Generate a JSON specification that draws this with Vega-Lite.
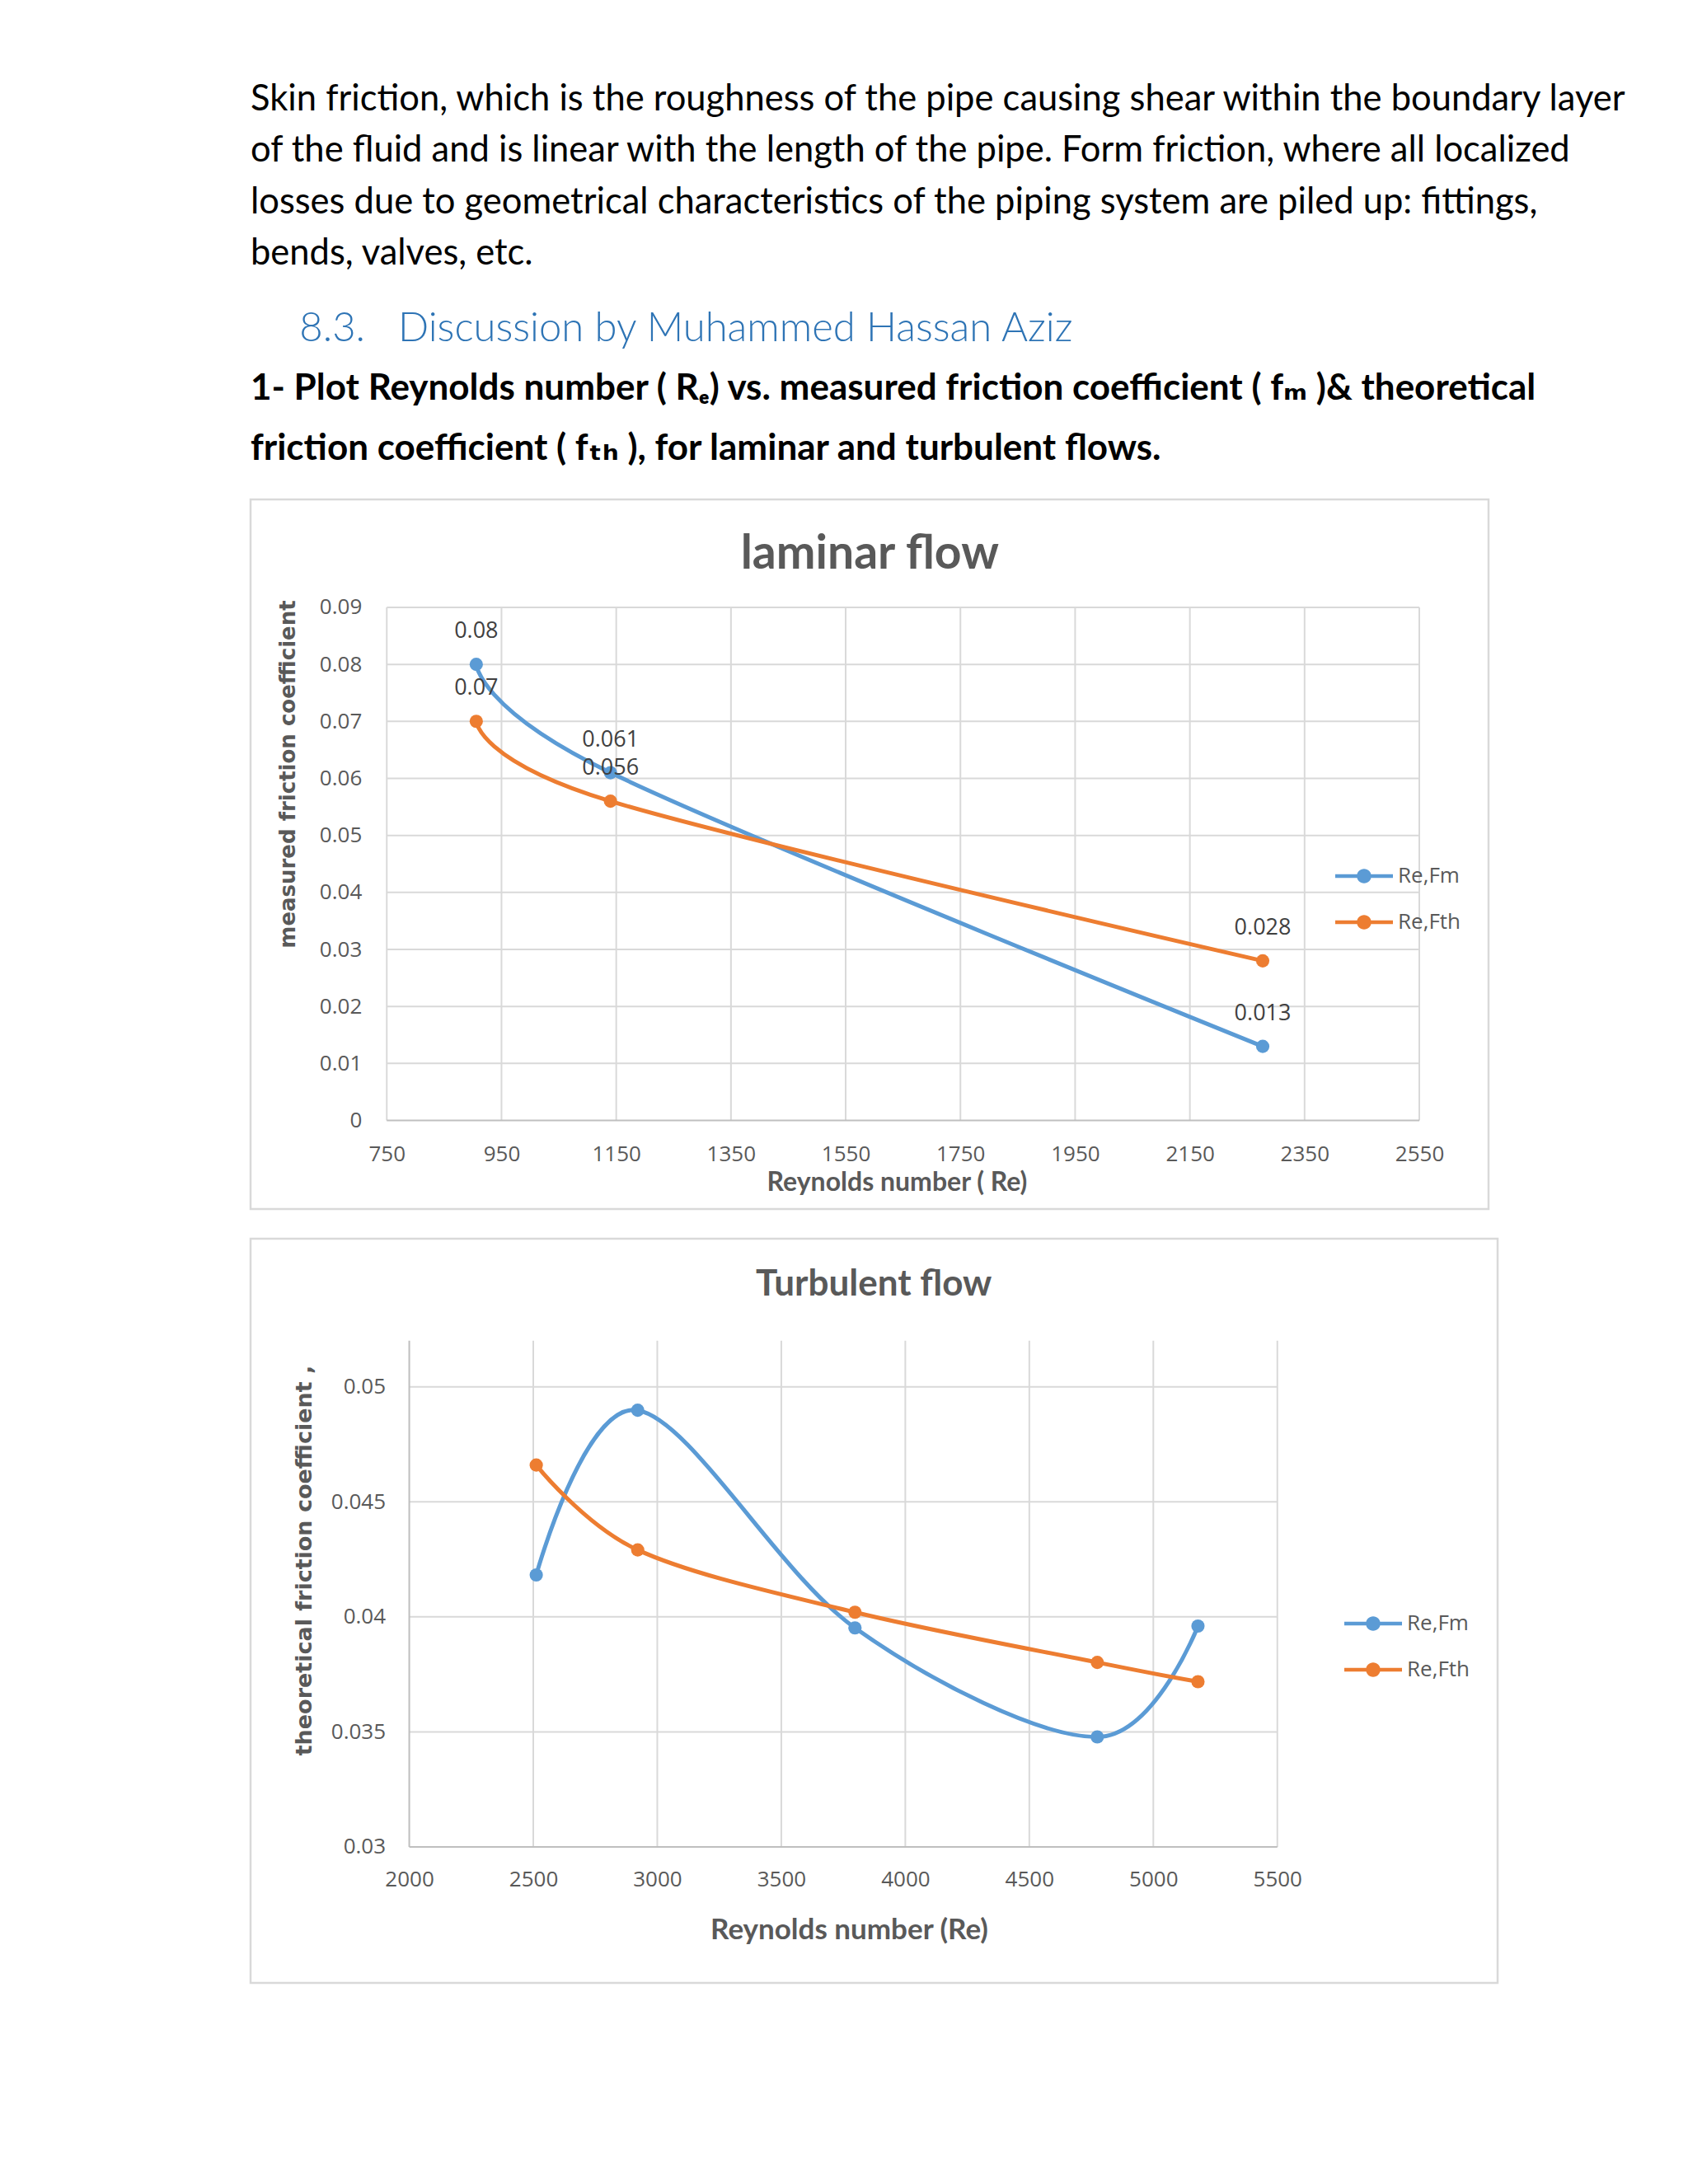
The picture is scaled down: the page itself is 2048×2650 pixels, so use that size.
{
  "$schema": "https://vega.github.io/schema/vega-lite/v6.json",
  "background": "white",
  "padding": {"left": 302, "top": 98, "right": 20, "bottom": 20},
  "title": {
    "text": [
      "Skin friction, which is the roughness of the pipe causing shear within the boundary layer",
      "of the fluid and is linear with the length of the pipe. Form friction, where all localized",
      "losses due to geometrical characteristics of the piping system are piled up: fittings,",
      "bends, valves, etc."
    ],
    "subtitle": "\u200b\u00a0\u00a0\u00a0\u00a0\u20098.3.\u00a0\u00a0\u00a0Discussion by Muhammed Hassan Aziz",
    "anchor": "start",
    "frame": "group",
    "font": "Lato",
    "fontSize": 43.5,
    "fontWeight": "normal",
    "color": "#000000",
    "lineHeight": 62.5,
    "subtitleFont": "Lato",
    "subtitleFontSize": 49,
    "subtitleFontWeight": 300,
    "subtitleColor": "#2e74b5",
    "subtitleLineHeight": 60,
    "subtitlePadding": 44,
    "offset": 25
  },
  "datasets": {
    "laminar": [
      {"Re": 906, "f": 0.08, "series": "Re,Fm"},
      {"Re": 1140, "f": 0.061, "series": "Re,Fm"},
      {"Re": 2277, "f": 0.013, "series": "Re,Fm"},
      {"Re": 906, "f": 0.07, "series": "Re,Fth"},
      {"Re": 1140, "f": 0.056, "series": "Re,Fth"},
      {"Re": 2277, "f": 0.028, "series": "Re,Fth"}
    ],
    "turbulent": [
      {"Re": 2512, "f": 0.04182, "series": "Re,Fm"},
      {"Re": 2921, "f": 0.04898, "series": "Re,Fm"},
      {"Re": 3797, "f": 0.03952, "series": "Re,Fm"},
      {"Re": 4774, "f": 0.03478, "series": "Re,Fm"},
      {"Re": 5180, "f": 0.0396, "series": "Re,Fm"},
      {"Re": 2512, "f": 0.0466, "series": "Re,Fth"},
      {"Re": 2921, "f": 0.04291, "series": "Re,Fth"},
      {"Re": 3797, "f": 0.0402, "series": "Re,Fth"},
      {"Re": 4774, "f": 0.03802, "series": "Re,Fth"},
      {"Re": 5180, "f": 0.03718, "series": "Re,Fth"}
    ],
    "lamTitle": [{"label": "laminar flow"}],
    "turTitle": [{"label": "Turbulent flow"}],
    "lamGridX": [{"v": 750}, {"v": 950}, {"v": 1150}, {"v": 1350}, {"v": 1550}, {"v": 1750}, {"v": 1950}, {"v": 2150}, {"v": 2350}, {"v": 2550}],
    "lamGridY": [{"v": 0.01}, {"v": 0.02}, {"v": 0.03}, {"v": 0.04}, {"v": 0.05}, {"v": 0.06}, {"v": 0.07}, {"v": 0.08}, {"v": 0.09}],
    "lamAxis": [{"v": 0}],
    "turGridX": [{"v": 2500}, {"v": 3000}, {"v": 3500}, {"v": 4000}, {"v": 4500}, {"v": 5000}, {"v": 5500}],
    "turGridY": [{"v": 0.035}, {"v": 0.04}, {"v": 0.045}, {"v": 0.05}],
    "turAxisX": [{"v": 2000}],
    "turAxisY": [{"v": 0.03}]
  },
  "vconcat": [
    {
      "title": {
        "text": [
          "1- Plot Reynolds number ( R\u2091) vs. measured friction coefficient ( f\u2098 )& theoretical",
          "friction coefficient ( f\u209c\u2095 ), for laminar and turbulent flows."
        ],
        "anchor": "start",
        "frame": "group",
        "font": "Lato, DejaVu Sans",
        "fontSize": 44,
        "fontWeight": "bold",
        "color": "#000000",
        "lineHeight": 73,
        "offset": 38
      },
      "vconcat": [
        {
          "width": 1502,
          "height": 861,
          "layer": [
            {
              "data": {"name": "lamGridX"},
              "mark": {"type": "rule", "color": "#d9d9d9", "strokeWidth": 2},
              "encoding": {
                "x": {"field": "v", "type": "quantitative", "scale": {"domain": [512.54, 2670.67], "nice": false, "zero": false},
                  "axis": {"values": [750, 950, 1150, 1350, 1550, 1750, 1950, 2150, 2350, 2550], "format": "d", "offset": -107.5, "labelPadding": 28, "title": "Reynolds number ( Re)", "titleX": 784, "titleY": 75, "titleFontSize": 32}},
                "y": {"datum": 0, "type": "quantitative", "scale": {"domain": [-0.015535, 0.108931], "nice": false, "zero": false},
                  "axis": {"values": [0, 0.01, 0.02, 0.03, 0.04, 0.05, 0.06, 0.07, 0.08, 0.09], "format": "~g", "offset": -164.8, "labelPadding": 30, "title": "measured friction coefficient", "titleX": -119, "titleY": 333}},
                "y2": {"datum": 0.09}
              }
            },
            {
              "data": {"name": "lamGridY"},
              "mark": {"type": "rule", "color": "#d9d9d9", "strokeWidth": 2},
              "encoding": {
                "y": {"field": "v", "type": "quantitative", "scale": {"domain": [-0.015535, 0.108931], "nice": false, "zero": false},
                  "axis": {"values": [0, 0.01, 0.02, 0.03, 0.04, 0.05, 0.06, 0.07, 0.08, 0.09], "format": "~g", "offset": -164.8, "labelPadding": 30, "title": "measured friction coefficient", "titleX": -119, "titleY": 333}},
                "x": {"datum": 750, "type": "quantitative", "scale": {"domain": [512.54, 2670.67], "nice": false, "zero": false},
                  "axis": {"values": [750, 950, 1150, 1350, 1550, 1750, 1950, 2150, 2350, 2550], "format": "d", "offset": -107.5, "labelPadding": 28, "title": "Reynolds number ( Re)", "titleX": 784, "titleY": 75, "titleFontSize": 32}},
                "x2": {"datum": 2550}
              }
            },
            {
              "data": {"name": "lamAxis"},
              "mark": {"type": "rule", "color": "#bfbfbf", "strokeWidth": 2},
              "encoding": {
                "y": {"field": "v", "type": "quantitative", "scale": {"domain": [-0.015535, 0.108931], "nice": false, "zero": false},
                  "axis": {"values": [0, 0.01, 0.02, 0.03, 0.04, 0.05, 0.06, 0.07, 0.08, 0.09], "format": "~g", "offset": -164.8, "labelPadding": 30, "title": "measured friction coefficient", "titleX": -119, "titleY": 333}},
                "x": {"datum": 750, "type": "quantitative", "scale": {"domain": [512.54, 2670.67], "nice": false, "zero": false},
                  "axis": {"values": [750, 950, 1150, 1350, 1550, 1750, 1950, 2150, 2350, 2550], "format": "d", "offset": -107.5, "labelPadding": 28, "title": "Reynolds number ( Re)", "titleX": 784, "titleY": 75, "titleFontSize": 32}},
                "x2": {"datum": 2550}
              }
            },
            {
              "data": {"name": "lamTitle"},
              "mark": {"type": "text", "font": "Lato", "fontSize": 57, "fontWeight": "bold", "color": "#595959", "align": "center", "baseline": "middle"},
              "encoding": {
                "x": {"datum": 1592, "type": "quantitative", "scale": {"domain": [512.54, 2670.67], "nice": false, "zero": false},
                  "axis": {"values": [750, 950, 1150, 1350, 1550, 1750, 1950, 2150, 2350, 2550], "format": "d", "offset": -107.5, "labelPadding": 28, "title": "Reynolds number ( Re)", "titleX": 784, "titleY": 75, "titleFontSize": 32}},
                "y": {"datum": 0.0992, "type": "quantitative", "scale": {"domain": [-0.015535, 0.108931], "nice": false, "zero": false},
                  "axis": {"values": [0, 0.01, 0.02, 0.03, 0.04, 0.05, 0.06, 0.07, 0.08, 0.09], "format": "~g", "offset": -164.8, "labelPadding": 30, "title": "measured friction coefficient", "titleX": -119, "titleY": 333}},
                "text": {"field": "label"}
              }
            },
            {
              "data": {"name": "laminar"},
              "mark": {"type": "line", "interpolate": "cardinal", "strokeWidth": 5},
              "encoding": {
                "x": {"field": "Re", "type": "quantitative", "scale": {"domain": [512.54, 2670.67], "nice": false, "zero": false},
                  "axis": {"values": [750, 950, 1150, 1350, 1550, 1750, 1950, 2150, 2350, 2550], "format": "d", "offset": -107.5, "labelPadding": 28, "title": "Reynolds number ( Re)", "titleX": 784, "titleY": 75, "titleFontSize": 32}},
                "y": {"field": "f", "type": "quantitative", "scale": {"domain": [-0.015535, 0.108931], "nice": false, "zero": false},
                  "axis": {"values": [0, 0.01, 0.02, 0.03, 0.04, 0.05, 0.06, 0.07, 0.08, 0.09], "format": "~g", "offset": -164.8, "labelPadding": 30, "title": "measured friction coefficient", "titleX": -119, "titleY": 333}},
                "color": {"field": "series", "type": "nominal", "scale": {"domain": ["Re,Fm", "Re,Fth"], "range": ["#5b9bd5", "#ed7d31"]},
                  "legend": {"orient": "none", "legendX": 1316, "legendY": 422}}
              }
            },
            {
              "data": {"name": "laminar"},
              "mark": {"type": "point", "filled": true, "size": 260, "opacity": 1},
              "encoding": {
                "x": {"field": "Re", "type": "quantitative", "scale": {"domain": [512.54, 2670.67], "nice": false, "zero": false},
                  "axis": {"values": [750, 950, 1150, 1350, 1550, 1750, 1950, 2150, 2350, 2550], "format": "d", "offset": -107.5, "labelPadding": 28, "title": "Reynolds number ( Re)", "titleX": 784, "titleY": 75, "titleFontSize": 32}},
                "y": {"field": "f", "type": "quantitative", "scale": {"domain": [-0.015535, 0.108931], "nice": false, "zero": false},
                  "axis": {"values": [0, 0.01, 0.02, 0.03, 0.04, 0.05, 0.06, 0.07, 0.08, 0.09], "format": "~g", "offset": -164.8, "labelPadding": 30, "title": "measured friction coefficient", "titleX": -119, "titleY": 333}},
                "color": {"field": "series", "type": "nominal", "scale": {"domain": ["Re,Fm", "Re,Fth"], "range": ["#5b9bd5", "#ed7d31"]},
                  "legend": {"orient": "none", "legendX": 1316, "legendY": 422}}
              }
            },
            {
              "data": {"name": "laminar"},
              "mark": {"type": "text", "dy": -40, "font": "Open Sans", "fontSize": 27, "color": "#404040"},
              "encoding": {
                "x": {"field": "Re", "type": "quantitative", "scale": {"domain": [512.54, 2670.67], "nice": false, "zero": false},
                  "axis": {"values": [750, 950, 1150, 1350, 1550, 1750, 1950, 2150, 2350, 2550], "format": "d", "offset": -107.5, "labelPadding": 28, "title": "Reynolds number ( Re)", "titleX": 784, "titleY": 75, "titleFontSize": 32}},
                "y": {"field": "f", "type": "quantitative", "scale": {"domain": [-0.015535, 0.108931], "nice": false, "zero": false},
                  "axis": {"values": [0, 0.01, 0.02, 0.03, 0.04, 0.05, 0.06, 0.07, 0.08, 0.09], "format": "~g", "offset": -164.8, "labelPadding": 30, "title": "measured friction coefficient", "titleX": -119, "titleY": 333}},
                "text": {"field": "f", "type": "quantitative", "format": "~g"}
              }
            }
          ]
        }
      ]
    },
    {
      "width": 1513,
      "height": 903,
      "layer": [
        {
          "data": {"name": "turGridX"},
          "mark": {"type": "rule", "color": "#d9d9d9", "strokeWidth": 2},
          "encoding": {
            "x": {"field": "v", "type": "quantitative", "scale": {"domain": [1360.1, 6388.1], "nice": false, "zero": false},
              "axis": {"values": [2000, 2500, 3000, 3500, 4000, 4500, 5000, 5500], "format": "d", "offset": -165, "labelPadding": 26, "title": "Reynolds number (Re)", "titleX": 726, "titleY": 100, "titleFontSize": 35}},
            "y": {"datum": 0.03, "type": "quantitative", "scale": {"domain": [0.024089, 0.056437], "nice": false, "zero": false},
              "axis": {"values": [0.03, 0.035, 0.04, 0.045, 0.05], "format": "~g", "offset": -192.6, "title": "theoretical friction coefficient ,", "titleX": -127.6, "titleY": 390, "titleFontSize": 27}},
            "y2": {"datum": 0.052}
          }
        },
        {
          "data": {"name": "turGridY"},
          "mark": {"type": "rule", "color": "#d9d9d9", "strokeWidth": 2},
          "encoding": {
            "y": {"field": "v", "type": "quantitative", "scale": {"domain": [0.024089, 0.056437], "nice": false, "zero": false},
              "axis": {"values": [0.03, 0.035, 0.04, 0.045, 0.05], "format": "~g", "offset": -192.6, "title": "theoretical friction coefficient ,", "titleX": -127.6, "titleY": 390, "titleFontSize": 27}},
            "x": {"datum": 2000, "type": "quantitative", "scale": {"domain": [1360.1, 6388.1], "nice": false, "zero": false},
              "axis": {"values": [2000, 2500, 3000, 3500, 4000, 4500, 5000, 5500], "format": "d", "offset": -165, "labelPadding": 26, "title": "Reynolds number (Re)", "titleX": 726, "titleY": 100, "titleFontSize": 35}},
            "x2": {"datum": 5500}
          }
        },
        {
          "data": {"name": "turAxisX"},
          "mark": {"type": "rule", "color": "#bfbfbf", "strokeWidth": 2},
          "encoding": {
            "x": {"field": "v", "type": "quantitative", "scale": {"domain": [1360.1, 6388.1], "nice": false, "zero": false},
              "axis": {"values": [2000, 2500, 3000, 3500, 4000, 4500, 5000, 5500], "format": "d", "offset": -165, "labelPadding": 26, "title": "Reynolds number (Re)", "titleX": 726, "titleY": 100, "titleFontSize": 35}},
            "y": {"datum": 0.03, "type": "quantitative", "scale": {"domain": [0.024089, 0.056437], "nice": false, "zero": false},
              "axis": {"values": [0.03, 0.035, 0.04, 0.045, 0.05], "format": "~g", "offset": -192.6, "title": "theoretical friction coefficient ,", "titleX": -127.6, "titleY": 390, "titleFontSize": 27}},
            "y2": {"datum": 0.052}
          }
        },
        {
          "data": {"name": "turAxisY"},
          "mark": {"type": "rule", "color": "#bfbfbf", "strokeWidth": 2},
          "encoding": {
            "y": {"field": "v", "type": "quantitative", "scale": {"domain": [0.024089, 0.056437], "nice": false, "zero": false},
              "axis": {"values": [0.03, 0.035, 0.04, 0.045, 0.05], "format": "~g", "offset": -192.6, "title": "theoretical friction coefficient ,", "titleX": -127.6, "titleY": 390, "titleFontSize": 27}},
            "x": {"datum": 2000, "type": "quantitative", "scale": {"domain": [1360.1, 6388.1], "nice": false, "zero": false},
              "axis": {"values": [2000, 2500, 3000, 3500, 4000, 4500, 5000, 5500], "format": "d", "offset": -165, "labelPadding": 26, "title": "Reynolds number (Re)", "titleX": 726, "titleY": 100, "titleFontSize": 35}},
            "x2": {"datum": 5500}
          }
        },
        {
          "data": {"name": "turTitle"},
          "mark": {"type": "text", "font": "Lato", "fontSize": 44, "fontWeight": "bold", "color": "#595959", "align": "center", "baseline": "middle"},
          "encoding": {
            "x": {"datum": 3873, "type": "quantitative", "scale": {"domain": [1360.1, 6388.1], "nice": false, "zero": false},
              "axis": {"values": [2000, 2500, 3000, 3500, 4000, 4500, 5000, 5500], "format": "d", "offset": -165, "labelPadding": 26, "title": "Reynolds number (Re)", "titleX": 726, "titleY": 100, "titleFontSize": 35}},
            "y": {"datum": 0.05444, "type": "quantitative", "scale": {"domain": [0.024089, 0.056437], "nice": false, "zero": false},
              "axis": {"values": [0.03, 0.035, 0.04, 0.045, 0.05], "format": "~g", "offset": -192.6, "title": "theoretical friction coefficient ,", "titleX": -127.6, "titleY": 390, "titleFontSize": 27}},
            "text": {"field": "label"}
          }
        },
        {
          "data": {"name": "turbulent"},
          "mark": {"type": "line", "interpolate": "cardinal", "strokeWidth": 5},
          "encoding": {
            "x": {"field": "Re", "type": "quantitative", "scale": {"domain": [1360.1, 6388.1], "nice": false, "zero": false},
              "axis": {"values": [2000, 2500, 3000, 3500, 4000, 4500, 5000, 5500], "format": "d", "offset": -165, "labelPadding": 26, "title": "Reynolds number (Re)", "titleX": 726, "titleY": 100, "titleFontSize": 35}},
            "y": {"field": "f", "type": "quantitative", "scale": {"domain": [0.024089, 0.056437], "nice": false, "zero": false},
              "axis": {"values": [0.03, 0.035, 0.04, 0.045, 0.05], "format": "~g", "offset": -192.6, "title": "theoretical friction coefficient ,", "titleX": -127.6, "titleY": 390, "titleFontSize": 27}},
            "color": {"field": "series", "type": "nominal", "scale": {"domain": ["Re,Fm", "Re,Fth"], "range": ["#5b9bd5", "#ed7d31"]},
              "legend": {"orient": "none", "legendX": 1327, "legendY": 432}}
          }
        },
        {
          "data": {"name": "turbulent"},
          "mark": {"type": "point", "filled": true, "size": 260, "opacity": 1},
          "encoding": {
            "x": {"field": "Re", "type": "quantitative", "scale": {"domain": [1360.1, 6388.1], "nice": false, "zero": false},
              "axis": {"values": [2000, 2500, 3000, 3500, 4000, 4500, 5000, 5500], "format": "d", "offset": -165, "labelPadding": 26, "title": "Reynolds number (Re)", "titleX": 726, "titleY": 100, "titleFontSize": 35}},
            "y": {"field": "f", "type": "quantitative", "scale": {"domain": [0.024089, 0.056437], "nice": false, "zero": false},
              "axis": {"values": [0.03, 0.035, 0.04, 0.045, 0.05], "format": "~g", "offset": -192.6, "title": "theoretical friction coefficient ,", "titleX": -127.6, "titleY": 390, "titleFontSize": 27}},
            "color": {"field": "series", "type": "nominal", "scale": {"domain": ["Re,Fm", "Re,Fth"], "range": ["#5b9bd5", "#ed7d31"]},
              "legend": {"orient": "none", "legendX": 1327, "legendY": 432}}
          }
        }
      ]
    }
  ],
  "spacing": 32,
  "resolve": {"scale": {"color": "independent"}, "legend": {"color": "independent"}},
  "config": {
    "view": {"stroke": "#d9d9d9", "strokeWidth": 2.5},
    "font": "Open Sans",
    "axis": {
      "grid": false, "domain": false, "ticks": false, "tickSize": 0, "labelFlush": false,
      "labelFont": "Open Sans", "labelFontSize": 26, "labelColor": "#595959",
      "titleBaseline": "middle", "titleColor": "#595959", "titleFontWeight": "bold"
    },
    "axisX": {"labelPadding": 24, "titleFont": "Lato", "titleFontSize": 31},
    "axisY": {"labelPadding": 29, "titleFont": "DejaVu Sans", "titleFontSize": 26},
    "legend": {
      "title": null,
      "symbolType": "M-1,-0.065H1V0.065H-1Z M0.25,0A0.25,0.25 0 1,1 -0.25,0A0.25,0.25 0 1,1 0.25,0Z",
      "symbolSize": 4900, "symbolStrokeWidth": 0, "symbolOpacity": 1,
      "labelFont": "Open Sans", "labelFontSize": 26, "labelColor": "#595959",
      "rowPadding": 8, "labelOffset": 6
    }
  }
}
